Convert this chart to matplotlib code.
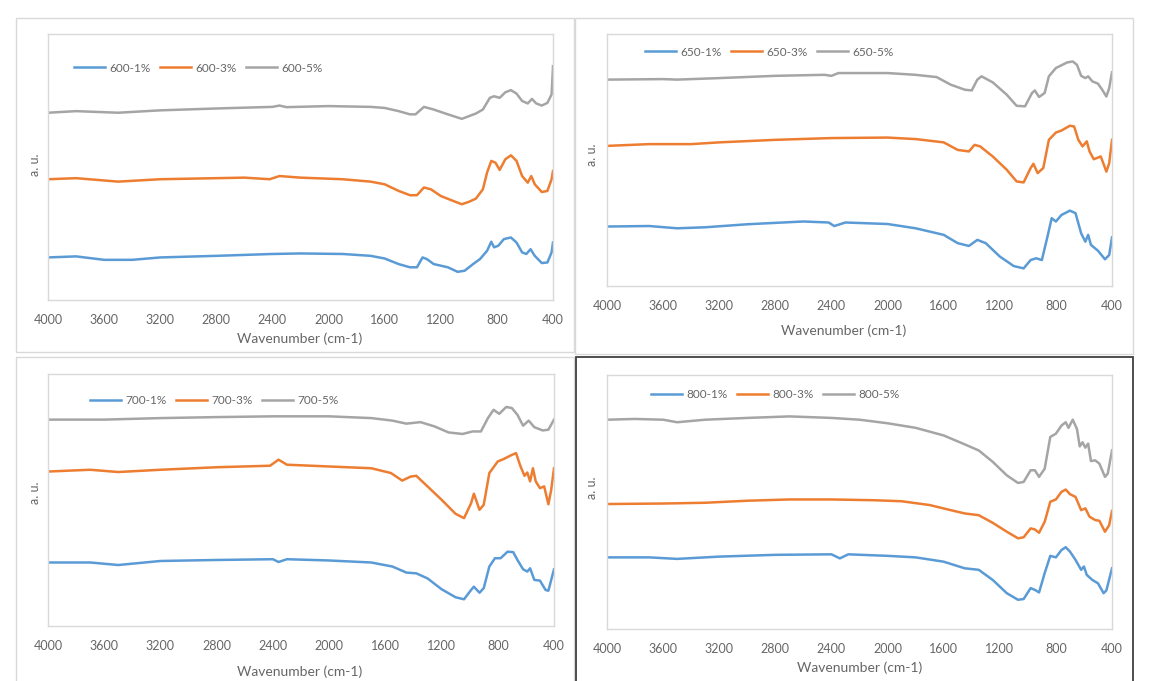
import matplotlib
matplotlib.use("Agg")
import matplotlib.pyplot as plt
from matplotlib.patches import Rectangle

plt.rcParams['font.family'] = ['Lato', 'DejaVu Sans']

# spectra (arbitrary units, 0-100 of each plot height)
wn_600_5 = [4000, 3800, 3500, 3200, 2800, 2400, 2350, 2300, 2000, 1700, 1600, 1500, 1420, 1380, 1320, 1250,
            1150, 1050, 1000, 950, 900, 850, 820, 780, 740, 700, 660, 620, 580, 550, 520, 480, 440, 410, 400]
au_600_5 = [70.4, 71, 70.4, 71.3, 72, 72.6, 73.1, 72.5, 72.9, 72.6, 72.2, 71, 69.8, 69.8, 72.6, 71.6,
            69.8, 68.1, 69.1, 70.1, 71.6, 76, 76.6, 76, 78.1, 78.9, 77.6, 74.8, 73.9, 75.6, 73.9, 73.1, 74.1, 77.3, 87.9]
wn_600_3 = [4000, 3800, 3500, 3200, 2800, 2600, 2420, 2350, 2200, 1900, 1700, 1600, 1500, 1420, 1370, 1320, 1270,
            1200, 1100, 1050, 1000, 950, 900, 870, 840, 810, 780, 740, 700, 660, 620, 580, 555, 530, 480, 440, 410, 400]
au_600_3 = [45.4, 45.8, 44.5, 45.4, 45.8, 46, 45.4, 46.6, 46, 45.4, 44.5, 43.5, 41, 39.4, 39.4, 42.3, 41.6,
            39.1, 37, 36, 36.9, 38.1, 41.6, 47.9, 52.3, 51.6, 48.9, 52.9, 54.4, 52.3, 46.6, 44.1, 46.6, 43.5, 40.6, 41, 45.4, 48.5]
wn_600_1 = [4000, 3800, 3600, 3400, 3200, 2800, 2400, 2200, 1900, 1700, 1600, 1500, 1420, 1370, 1330, 1300, 1250,
            1150, 1080, 1030, 970, 920, 870, 840, 820, 790, 750, 700, 660, 620, 590, 560, 530, 480, 440, 410, 400]
au_600_1 = [16, 16.4, 15.1, 15.1, 16, 16.6, 17.3, 17.5, 17.3, 16.6, 15.6, 13.5, 12.3, 12.3, 16, 15.4, 13.5,
            12.3, 10.6, 11, 13.5, 15.4, 18.5, 21.9, 19.8, 20.4, 22.9, 23.5, 21.6, 17.9, 17.3, 19.1, 16.6, 13.9, 14.1, 17.9, 21.6]

wn_650_5 = [4000, 3600, 3500, 3200, 2800, 2450, 2400, 2350, 2000, 1800, 1650, 1550, 1450, 1400, 1360, 1330, 1250,
            1150, 1080, 1020, 970, 950, 920, 880, 850, 800, 720, 680, 650, 620, 590, 570, 540, 500, 470, 440, 420, 400]
au_650_5 = [81.9, 82.1, 81.9, 82.5, 83.4, 83.8, 83.4, 84.5, 84.5, 83.8, 82.9, 79.9, 77.9, 77.6, 81.9, 83.2, 80.8,
            75.9, 71.5, 71.3, 76.6, 77.6, 75, 76.6, 83.2, 86.5, 88.7, 89.1, 87.8, 83.4, 82.5, 83.2, 81.2, 80.3, 77.9, 75.2, 78.5, 84.8]
wn_650_3 = [4000, 3700, 3400, 3200, 2800, 2400, 2000, 1800, 1600, 1500, 1420, 1380, 1340, 1250, 1150, 1080, 1030,
            980, 960, 930, 890, 850, 800, 760, 700, 670, 640, 610, 580, 560, 530, 480, 440, 420, 400]
au_650_3 = [55.6, 56.3, 56.3, 57, 58, 58.7, 58.9, 58.3, 57, 54, 53.4, 56, 55.4, 51.4, 46.1, 41.5, 41.1,
            46.8, 48.5, 44.8, 46.8, 58, 60.9, 61.7, 63.6, 63.3, 58, 55.4, 57.4, 53.4, 50.3, 51.4, 45.4, 48.7, 58]
wn_650_1 = [4000, 3700, 3500, 3300, 3000, 2600, 2420, 2380, 2300, 2000, 1800, 1600, 1500, 1420, 1360, 1300, 1200,
            1100, 1030, 980, 940, 900, 860, 830, 800, 760, 700, 660, 620, 590, 570, 550, 500, 450, 420, 400]
au_650_1 = [23.6, 23.8, 22.9, 23.3, 24.5, 25.6, 25.2, 23.8, 25.2, 24.6, 22.9, 20.3, 17, 15.9, 18.3, 17, 11.7,
            7.9, 7, 10.3, 11, 10.3, 19.6, 26.9, 25.6, 28.2, 29.9, 28.9, 20.9, 17.6, 20.3, 16.3, 14, 10.6, 12.3, 19.3]

wn_700_5 = [4000, 3600, 3200, 2800, 2400, 2000, 1700, 1550, 1450, 1350, 1250, 1150, 1050, 980, 920, 870, 830,
            790, 740, 700, 660, 620, 580, 540, 480, 440, 400]
au_700_5 = [81.9, 81.9, 82.5, 82.9, 83.2, 83.2, 82.5, 81.5, 80.3, 80.9, 79.2, 76.8, 76.2, 77.2, 77.2, 82.5, 85.8,
            84.2, 86.9, 86.5, 83.8, 79.5, 81.5, 78.9, 77.6, 77.9, 81.9]
wn_700_3 = [4000, 3700, 3500, 3200, 2800, 2420, 2360, 2300, 2000, 1700, 1560, 1480, 1420, 1380, 1300, 1200, 1100,
            1040, 990, 970, 930, 900, 860, 800, 760, 700, 670, 640, 610, 590, 570, 550, 530, 500, 470, 440, 420, 400]
au_700_3 = [61.3, 62, 61.1, 62, 63, 63.6, 66, 64, 63.3, 62.6, 60.7, 57.7, 59.3, 59.6, 55.4, 50.1, 44.5,
            42.8, 48.7, 52.5, 46.1, 48.1, 60.7, 65.3, 66.2, 67.9, 68.6, 63.6, 59.6, 60.9, 57.4, 62.6, 57.4, 54.7, 55.4, 48.3, 54, 62.6]
wn_700_1 = [4000, 3700, 3500, 3200, 2800, 2400, 2360, 2300, 2000, 1700, 1550, 1450, 1380, 1300, 1200, 1100, 1040,
            990, 970, 930, 900, 860, 820, 780, 730, 690, 660, 620, 590, 570, 540, 500, 460, 440, 400]
au_700_1 = [25.2, 25.2, 24.2, 25.8, 26.2, 26.5, 25.4, 26.5, 26, 25.2, 23.6, 21.2, 20.9, 18.9, 14.6, 11.4, 10.6,
            14.3, 15.6, 13.2, 15, 23.6, 26.9, 26.9, 29.5, 29.3, 26.2, 22.5, 21.6, 22.9, 18.3, 18, 14.3, 14, 22.5]

wn_800_5 = [4000, 3800, 3600, 3500, 3300, 3000, 2700, 2400, 2200, 2000, 1800, 1600, 1450, 1350, 1250, 1150, 1070,
            1030, 980, 950, 920, 880, 840, 800, 760, 730, 710, 680, 650, 630, 610, 590, 570, 550, 520, 490, 450, 430, 400]
au_800_5 = [82.4, 82.7, 82.4, 81.4, 82.4, 83.1, 83.7, 83.1, 82.4, 81, 79.2, 76.2, 72.7, 70.3, 65.8, 60.5, 57.5,
            57.9, 62.5, 62.5, 59.9, 63.1, 75.6, 76.9, 80.1, 81.4, 79.2, 82.4, 78.8, 71.9, 73.5, 71.4, 73, 66.1, 66.4, 65.1, 59.9, 61.2, 70.3]
wn_800_3 = [4000, 3600, 3300, 3000, 2700, 2400, 2100, 1900, 1700, 1550, 1450, 1350, 1250, 1150, 1070, 1030, 980,
            950, 920, 880, 840, 800, 760, 730, 700, 660, 620, 590, 560, 520, 490, 450, 420, 400]
au_800_3 = [49.2, 49.4, 49.7, 50.5, 51, 51, 50.7, 50.3, 48.8, 46.8, 45.5, 44.8, 41.8, 38.3, 35.7, 36.1, 39.6,
            39.2, 37.9, 42.2, 50.1, 51, 54, 54.9, 53.1, 52, 46.8, 47.5, 44.2, 42.9, 42.6, 38.3, 40.9, 46.5]
wn_800_1 = [4000, 3700, 3500, 3200, 2800, 2400, 2340, 2280, 2000, 1800, 1600, 1450, 1350, 1250, 1150, 1070, 1030,
            980, 950, 920, 880, 840, 800, 760, 730, 700, 660, 620, 600, 580, 540, 500, 460, 440, 400]
au_800_1 = [28.2, 28.2, 27.6, 28.5, 29.2, 29.4, 27.8, 29.4, 28.8, 28.2, 26.5, 23.9, 23.3, 19.3, 14.1, 11.5, 11.8,
            16.1, 15.4, 14.4, 22, 28.8, 28.2, 31.1, 32.2, 30.5, 27.2, 23.3, 24.6, 21.3, 19.3, 18, 14.1, 15.2, 23.9]

temps = ['600', '650', '700', '800']
loadings = ['1%', '3%', '5%']
series = {
    '600': [(wn_600_1, au_600_1), (wn_600_3, au_600_3), (wn_600_5, au_600_5)],
    '650': [(wn_650_1, au_650_1), (wn_650_3, au_650_3), (wn_650_5, au_650_5)],
    '700': [(wn_700_1, au_700_1), (wn_700_3, au_700_3), (wn_700_5, au_700_5)],
    '800': [(wn_800_1, au_800_1), (wn_800_3, au_800_3), (wn_800_5, au_800_5)],
}
xticks = [4000, 3600, 3200, 2800, 2400, 2000, 1600, 1200, 800, 400]
colors = ['#5B9BD5', '#ED7D31', '#A5A5A5']
txt = '#666666'

W, H = 1149, 681
fig = plt.figure(figsize=(W / 100, H / 100), dpi=100)


def fx(px):
    return px / W


def fy(py):
    return 1 - py / H


# outer chart frames (pixel boxes), the last one has a dark border
frames = [((16, 18, 574, 352), '#D9D9D9', 1.0), ((575, 18, 1133, 354), '#D9D9D9', 1.0),
          ((16, 357, 574, 700), '#D9D9D9', 1.0), ((576, 357, 1133, 700), '#404040', 1.3)]
for (x0, y0, x1, y1), ec, lw in frames:
    fig.add_artist(Rectangle((fx(x0), fy(y1)), fx(x1 - x0), (y1 - y0) / H, transform=fig.transFigure,
                             fill=False, ec=ec, lw=lw))

# plot boxes, legend anchor, x label centre, y label centre (pixels)
layout = {
    '600': dict(box=(48, 34, 553, 300), leg=(74, 68), xl=(300, 339), yl=(35, 165)),
    '650': dict(box=(607, 34, 1112, 286), leg=(645, 52), xl=(844, 331), yl=(592, 155)),
    '700': dict(box=(48, 374, 554, 626), leg=(90, 401), xl=(300, 672), yl=(35, 493)),
    '800': dict(box=(607, 375, 1112, 629), leg=(651, 395), xl=(860, 668), yl=(592, 488)),
}

for t in temps:
    L = layout[t]
    x0, y0, x1, y1 = L['box']
    ax = fig.add_axes([fx(x0), fy(y1), fx(x1 - x0), (y1 - y0) / H])
    for (wn, au), c, ld in zip(series[t], colors, loadings):
        ax.plot(wn, au, color=c, lw=1.8, solid_joinstyle='round', label=f'{t}-{ld}')
    ax.set_xlim(4000, 400)
    ax.set_ylim(0, 100)
    ax.set_xticks(xticks)
    ax.set_yticks([])
    ax.tick_params(axis='x', length=0, pad=10, labelsize=9, labelcolor=txt)
    for s in ax.spines.values():
        s.set_color('#D9D9D9')
        s.set_linewidth(1.0)
    leg = ax.legend(ncol=3, frameon=False, fontsize=8.5, loc='center left',
                    bbox_to_anchor=(fx(L['leg'][0]), fy(L['leg'][1])), bbox_transform=fig.transFigure,
                    borderpad=0, borderaxespad=0, handlelength=2.6, handletextpad=0.4, columnspacing=0.8)
    for tx in leg.get_texts():
        tx.set_color(txt)
    fig.text(fx(L['xl'][0]), fy(L['xl'][1]), 'Wavenumber (cm-1)', ha='center', va='center',
             fontsize=10, color=txt)
    fig.text(fx(L['yl'][0]), fy(L['yl'][1]), 'a. u.', ha='center', va='center', rotation=90,
             fontsize=9, color=txt)

fig.savefig('out.png', dpi=100, facecolor='white')
